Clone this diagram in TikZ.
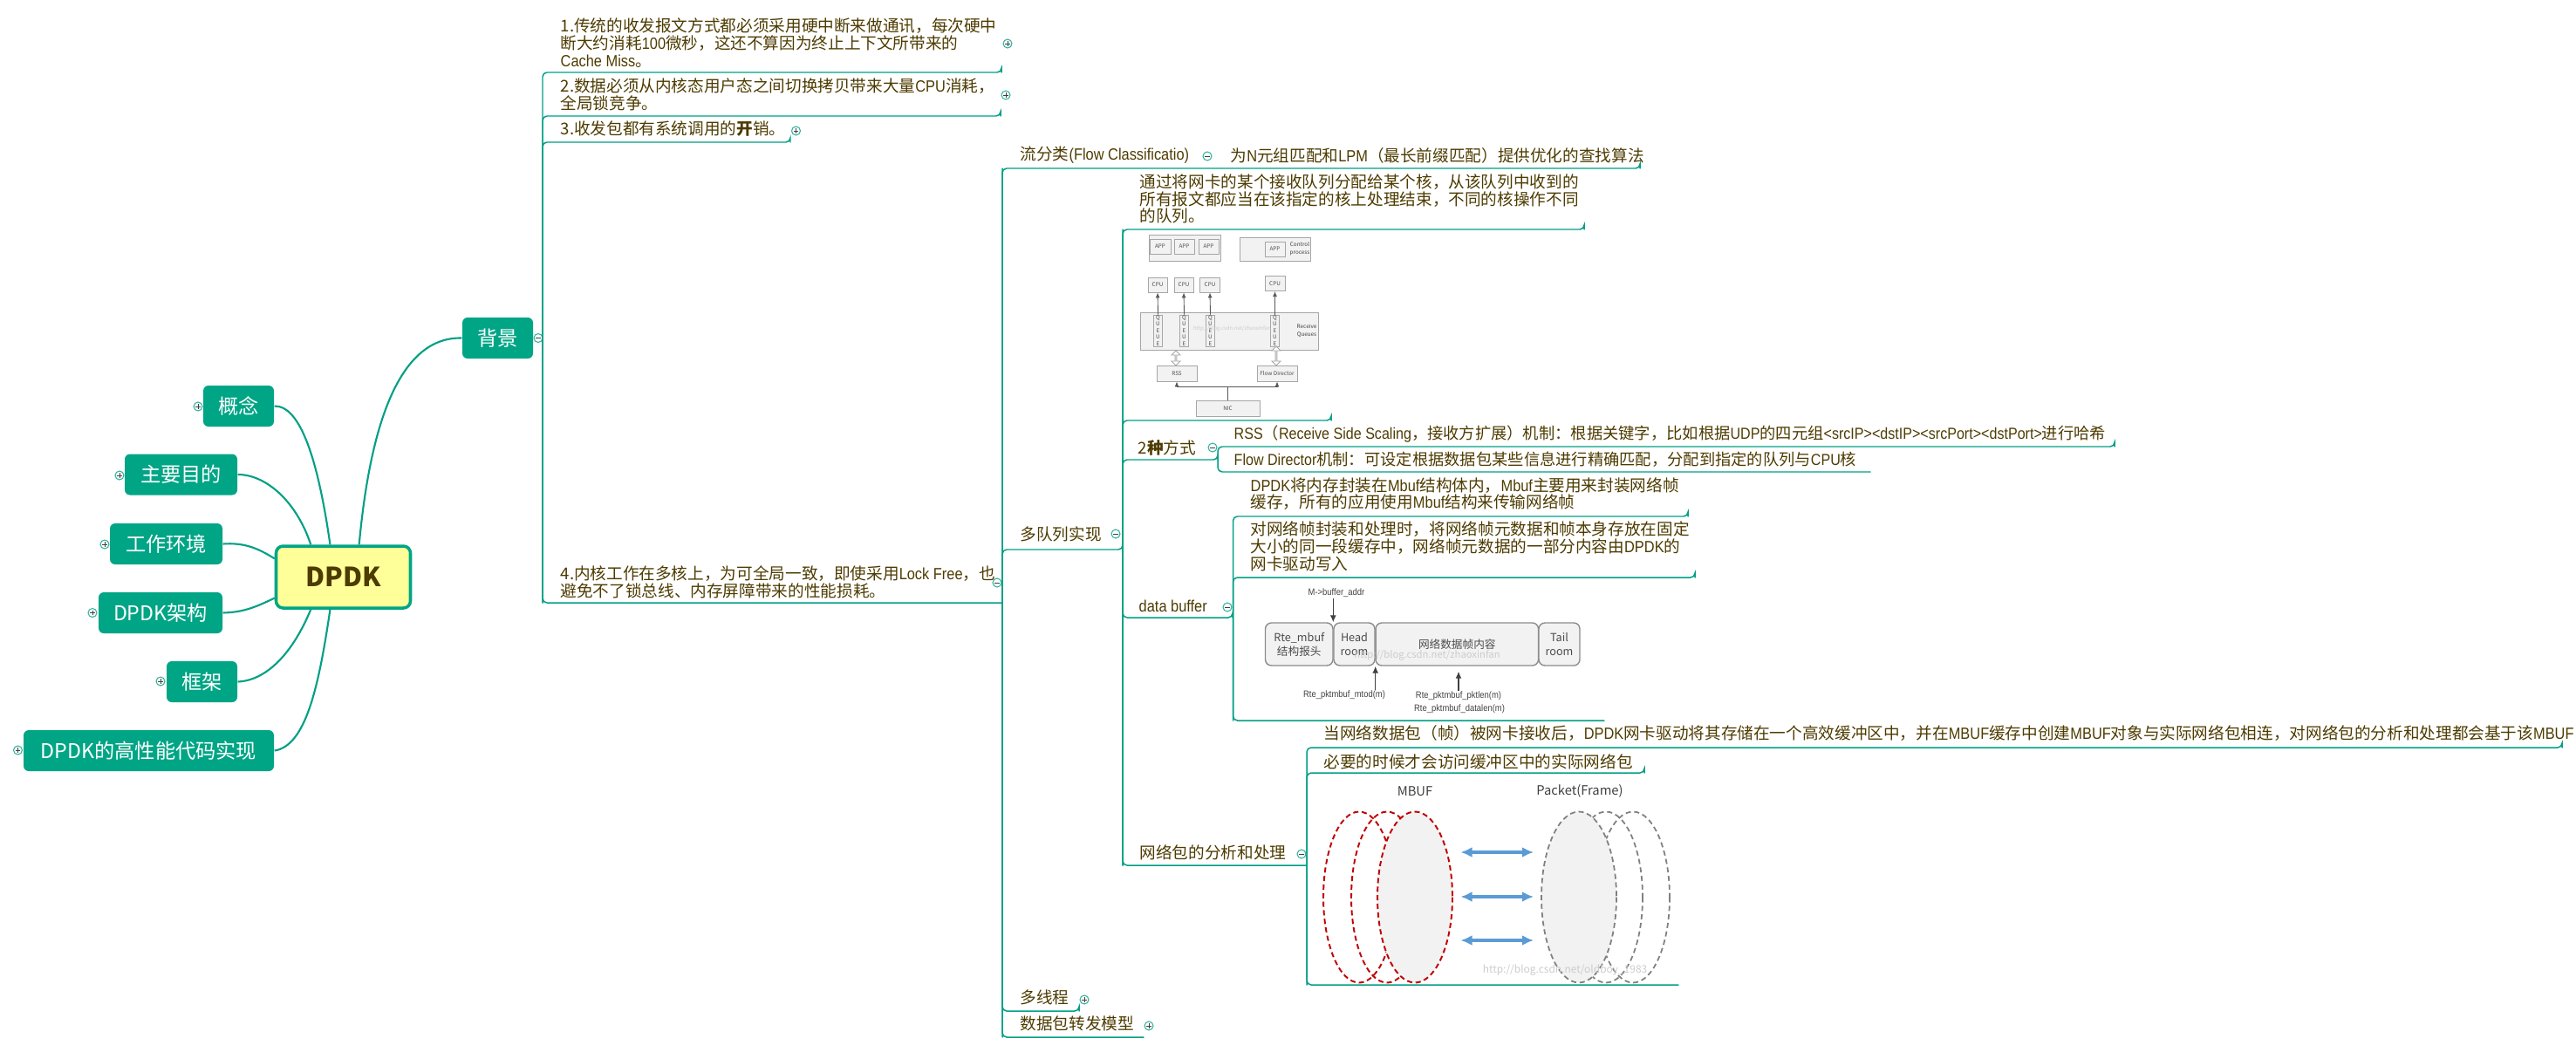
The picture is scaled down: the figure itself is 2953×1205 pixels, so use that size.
\documentclass[tikz,border=0pt]{standalone}
\usepackage{fontspec}
\setmainfont{Noto Sans CJK SC}
\newfontfamily\latinfont[FakeStretch=0.88]{Liberation Sans}
\newcommand{\lat}[1]{{\latinfont #1}}
\usepackage{tikz}
\usetikzlibrary{arrows.meta,calc,shapes.arrows}
\usepackage{tkz-euclide}
\usepackage{xcolor}
\definecolor{MapGreen}{HTML}{00a586}
\definecolor{MapLine}{HTML}{009f84}
\definecolor{MapText}{HTML}{4d3b00}
\definecolor{MapYellow}{HTML}{ffff99}
\definecolor{ShotGrey}{HTML}{f2f2f2}
\definecolor{ShotRed}{HTML}{c00000}
\definecolor{ShotBlue}{HTML}{5b9bd5}
\tikzset{
  subject/.style={draw=none,fill=MapGreen,text=white,rounded corners=.6mm,inner sep=0pt,
    minimum height=4.7mm,font=\fontsize{6.6}{7}\selectfont},
  topic/.style={anchor=west,text=MapText,inner sep=0pt,align=left,
    font=\fontsize{5.3}{5.65}\selectfont},
  branch/.style={MapLine,line width=.42pt,rounded corners=.5mm},
  link/.style={MapLine,line width=.6pt},
  fold/.style={circle,draw=MapLine!80,fill=white,line width=.3pt,minimum size=1mm,inner sep=0pt},
  foldshut/.style={fold,path picture={
    \draw[line width=.2pt,black!75] (path picture bounding box.center) ++(-.28mm,0) -- ++(.56mm,0);
    \draw[line width=.2pt,black!75] (path picture bounding box.center) ++(0,-.28mm) -- ++(0,.56mm);}},
  foldopen/.style={fold,path picture={
    \draw[line width=.2pt,black!75] (path picture bounding box.center) ++(-.28mm,0) -- ++(.56mm,0);}},
  shotbox/.style={draw=black!35,fill=ShotGrey,inner sep=0pt,text=black!70,align=center,
    line width=.25pt,font=\fontsize{1.8}{2.1}\selectfont},
  shotarrow/.style={black!65,line width=.25pt,-{Latex[length=.6mm,width=.5mm]}},
  hollow/.style={double arrow,draw=black!35,fill=white,line width=.25pt,inner sep=0pt,rotate=90,
    minimum width=1mm,double arrow head extend=.2mm,double arrow head indent=0pt},
  cell/.style={draw=black!45,fill=ShotGrey,rounded corners=.7mm,inner sep=0pt,text=black!70,
    align=center,minimum height=4.9mm,font=\fontsize{3.6}{4.6}\selectfont},
  caption/.style={text=black!75,inner sep=0pt,font=\fontsize{3.05}{3.4}\selectfont\latinfont},
  stamp/.style={text=black!20,inner sep=0pt,font=\fontsize{3.2}{3.6}\selectfont},
  dashred/.style={ShotRed,line width=.55pt,dash pattern=on 1.7pt off 1.1pt},
  dashgrey/.style={black!50,line width=.5pt,dash pattern=on 1.7pt off 1.1pt},
  capture/.style={black!75,line width=.35pt,-{Latex[length=.8mm,width=.7mm]}},
  bluearrow/.style={ShotBlue,line width=1.1pt,{Latex[length=1.3mm,width=1.2mm]}-{Latex[length=1.3mm,width=1.2mm]}}
}
\begin{document}
\begin{tikzpicture}[x=.1mm,y=-.1mm]
   \useasboundingbox (0,0) rectangle (2953,1205);
   % centre and first level
   \node[subject,fill=MapYellow,draw=MapGreen,line width=1pt,rounded corners=.8mm,text=MapText,
     minimum width=15.4mm,minimum height=7.1mm,font=\fontsize{8.6}{9}\selectfont\bfseries] (dpdk) at (393.5,661.5) {DPDK};
   \node[subject,minimum width=8.1mm] (bg) at (570.5,387.5) {背景};
   \node[subject,minimum width=8.1mm] (gn) at (273.5,465.5) {概念};
   \node[subject,minimum width=12.9mm] (md) at (207.5,544) {主要目的};
   \node[subject,minimum width=12.9mm] (hj) at (190.5,623.5) {工作环境};
   \node[subject,minimum width=14.2mm] (jg) at (184,702.5) {DPDK架构};
   \node[subject,minimum width=8.1mm] (kj) at (231.5,781.5) {框架};
   \node[subject,minimum width=28.7mm] (gx) at (170.5,860.5) {DPDK的高性能代码实现};
   \draw[link] (dpdk.64) .. controls (425,480) and (460,386) .. (bg.west);
   \draw[link] (dpdk.112) .. controls (365,530) and (345,465) .. (gn.east);
   \draw[link] (dpdk.135) .. controls (340,575) and (305,544) .. (md.east);
   \draw[link] (dpdk.165) .. controls (295,628) and (280,622) .. (hj.east);
   \draw[link] (dpdk.197) .. controls (295,695) and (280,702) .. (jg.east);
   \draw[link] (dpdk.225) .. controls (335,750) and (305,780) .. (kj.east);
   \draw[link] (dpdk.248) .. controls (365,790) and (350,855) .. (gx.east);
   \node[foldopen] (fbg) at (617,387.5) {};
   \node[foldshut] (fgn) at (227,466) {};
   \node[foldshut] (fmd) at (137,545) {};
   \node[foldshut] (fhj) at (120,624) {};
   \node[foldshut] (fjg) at (106,702.5) {};
   \node[foldshut] (fkj) at (184,781) {};
   \node[foldshut] (fgx) at (20.5,860) {};
   % tree lines
   \tkzDefPoints{622/83/a,1148/83/ar,622/133/b,1147/133/br,622/163/c,906/163/cr,622/691/d,1149/691/dr}
   \tkzDrawPolySeg[branch](ar,a,d,dr)
   \tkzDrawPolySeg[branch](br,b,d)
   \tkzDrawPolySeg[branch](cr,c,d)
   \tkzDefPoints{1149/193/e,1880/193/er,1149/630/f,1287/630/fr,1149/1159/g,1237/1159/gr,1149/1189/h,1311/1189/hr}
   \tkzDrawPolySeg[branch](er,e,h,hr)
   \tkzDrawPolySeg[branch](fr,f,h)
   \tkzDrawPolySeg[branch](gr,g,e)
   \tkzDefPoints{1287/263/i,1816/263/ir,1287/482/j,1526/482/jr,1287/527/k,1396/527/kr,1287/708/l,1413/708/lr,1287/992/m,1498/992/mr}
   \tkzDrawPolySeg[branch](ir,i,m,mr)
   \tkzDrawPolySeg[branch](jr,j,m)
   \tkzDrawPolySeg[branch](kr,k,m)
   \tkzDrawPolySeg[branch](lr,l,i)
   \tkzDefPoints{1396/512/n,2424/512/nr,1396/541/o,2144/541/or}
   \tkzDrawPolySeg[branch](nr,n,o,or)
   \tkzDefPoints{1413.5/592/p,1935/592/pr,1413.5/662/q,1943/662/qr,1413.5/826/r,1839/826/rr}
   \tkzDrawPolySeg[branch](pr,p,r,rr)
   \tkzDrawPolySeg[branch](qr,q,r)
   \tkzDefPoints{1498/857/s,2937/857/sr,1498/886/t,1885/886/tr,1498/1129/u,1924/1129/ur}
   \tkzDrawPolySeg[branch](sr,s,u,ur)
   \tkzDrawPolySeg[branch](tr,t,u)
   % text of the topics
   \node[topic] (t1) at (642,49) {1.传统的收发报文方式都必须采用硬中断来做通讯，每次硬中\\断大约消耗\lat{100}微秒，这还不算因为终止上下文所带来的\\\lat{Cache Miss}。};
   \node[foldshut] (f1) at (1155,50) {};
   \node[topic] (t2) at (642,108.5) {2.数据必须从内核态用户态之间切换拷贝带来大量\lat{CPU}消耗，\\全局锁竞争。};
   \node[foldshut] (f2) at (1153,109) {};
   \node[topic] (t3) at (642,148) {3.收发包都有系统调用的{\bfseries 开}销。};
   \node[foldshut] (f3) at (912.5,150) {};
   \node[topic] (t4) at (642,667) {4.内核工作在多核上，为可全局一致，即使采用\lat{Lock Free}，也\\避免不了锁总线、内存屏障带来的性能损耗。};
   \node[foldopen] (f4) at (1143,668) {};
   \node[topic] (t5) at (1169,178) {流分类\lat{(Flow Classificatio)}};
   \node[foldopen] (f5) at (1384,179) {};
   \node[topic] (t6) at (1410,178) {为\lat{N}元组匹配和\lat{LPM}（最长前缀匹配）提供优化的查找算法};
   \node[topic] (t7) at (1169,612) {多队列实现};
   \node[foldopen] (f7) at (1279,612) {};
   \node[topic] (t8) at (1306,228) {通过将网卡的某个接收队列分配给某个核，从该队列中收到的\\所有报文都应当在该指定的核上处理结束，不同的核操作不同\\的队列。};
   \node[topic] (t9) at (1304,513) {2{\bfseries 种}方式};
   \node[foldopen] (f9) at (1390,513) {};
   \node[topic,font=\fontsize{5.2}{5.65}\selectfont] (t10) at (1414,498) {\lat{RSS}（\lat{Receive Side Scaling}，接收方扩展）机制：根据关键字，比如根据\lat{UDP}的四元组\lat{<srcIP><dstIP><srcPort><dstPort>}进行哈希};
   \node[topic,font=\fontsize{5.2}{5.65}\selectfont] (t11) at (1414,527) {\lat{Flow Director}机制：可设定根据数据包某些信息进行精确匹配，分配到指定的队列与\lat{CPU}核};
   \node[topic] (t12) at (1305,695) {\lat{data buffer}};
   \node[foldopen] (f12) at (1407,696) {};
   \node[topic] (t13) at (1433,566) {\lat{DPDK}将内存封装在\lat{Mbuf}结构体内，\lat{Mbuf}主要用来封装网络帧\\缓存，所有的应用使用\lat{Mbuf}结构来传输网络帧};
   \node[topic] (t14) at (1433,626) {对网络帧封装和处理时，将网络帧元数据和帧本身存放在固定\\大小的同一段缓存中，网络帧元数据的一部分内容由\lat{DPDK}的\\网卡驱动写入};
   \node[topic] (t15) at (1306,977) {网络包的分析和处理};
   \node[foldopen] (f15) at (1492,979) {};
   \node[topic] (t16) at (1517,841) {当网络数据包（帧）被网卡接收后，\lat{DPDK}网卡驱动将其存储在一个高效缓冲区中，并在\lat{MBUF}缓存中创建\lat{MBUF}对象与实际网络包相连，对网络包的分析和处理都会基于该\lat{MBUF}};
   \node[topic] (t17) at (1517,873) {必要的时候才会访问缓冲区中的实际网络包};
   \node[topic] (t18) at (1169,1143) {多线程};
   \node[foldshut] (f18) at (1243,1146) {};
   \node[topic] (t19) at (1169,1173) {数据包转发模型};
   \node[foldshut] (f19) at (1317,1176) {};
   % receive queues
   \node[shotbox,minimum width=8.2mm,minimum height=3mm] (apps) at (1358,284) {};
   \node[shotbox,minimum width=2.4mm,minimum height=1.7mm] (a1) at (1330,282.5) {APP};
   \node[shotbox,minimum width=2.3mm,minimum height=1.7mm] (a2) at (1357.5,282.5) {APP};
   \node[shotbox,minimum width=2.3mm,minimum height=1.7mm] (a3) at (1385.5,282.5) {APP};
   \node[shotbox,minimum width=8.1mm,minimum height=2.7mm] (ctrl) at (1461.5,285.5) {};
   \node[shotbox,minimum width=2.3mm,minimum height=1.7mm] (a4) at (1461.5,285.5) {APP};
   \node[caption,align=center,font=\fontsize{1.8}{2.4}\selectfont] (ctrltext) at (1490,285) {Control\\process};
   \node[shotbox,minimum width=2.2mm,minimum height=1.7mm] (c1) at (1327,326.5) {CPU};
   \node[shotbox,minimum width=2.2mm,minimum height=1.7mm] (c2) at (1357,326.5) {CPU};
   \node[shotbox,minimum width=2.3mm,minimum height=1.7mm] (c3) at (1387,326.5) {CPU};
   \node[shotbox,minimum width=2.3mm,minimum height=1.7mm] (c4) at (1461.5,325) {CPU};
   \node[shotbox,minimum width=20.4mm,minimum height=4.3mm] (rq) at (1409,379.5) {};
   \node[shotbox,minimum width=1mm,minimum height=3.6mm] (q1) at (1327.5,379) {Q\\U\\E\\U\\E};
   \node[shotbox,minimum width=1mm,minimum height=3.6mm] (q2) at (1357.5,379) {Q\\U\\E\\U\\E};
   \node[shotbox,minimum width=1mm,minimum height=3.6mm] (q3) at (1387.5,379) {Q\\U\\E\\U\\E};
   \node[shotbox,minimum width=1mm,minimum height=3.6mm] (q4) at (1461.5,379) {Q\\U\\E\\U\\E};
   \node[caption,align=center,font=\fontsize{1.8}{2.4}\selectfont] (rqtext) at (1498,379) {Receive\\Queues};
   \node[stamp,font=\fontsize{1.7}{2}\selectfont] (mark1) at (1412.5,377) {http://blog.csdn.net/zhaoxinfan};
   \node[shotbox,minimum width=4.6mm,minimum height=1.8mm] (rss) at (1349,428) {RSS};
   \node[shotbox,minimum width=4.6mm,minimum height=1.8mm] (flow) at (1464,428) {Flow Director};
   \node[shotbox,minimum width=7.3mm,minimum height=1.8mm] (nic) at (1407.5,468) {NIC};
   \coordinate (split) at (1407.5,443);
   \draw[shotarrow] (q1.north) -- (c1.south);
   \draw[shotarrow] (q2.north) -- (c2.south);
   \draw[shotarrow] (q3.north) -- (c3.south);
   \draw[shotarrow] (q4.north) -- (c4.south);
   \node[hollow,minimum height=1.7mm] (ra) at (1348,410.5) {};
   \node[hollow,minimum height=2.2mm] (fa) at (1463,408) {};
   \draw[black!65,line width=.25pt] (nic.north) -- (split);
   \draw[shotarrow] (split) -| (rss.south);
   \draw[shotarrow] (split) -| (flow.south);
   % mbuf layout
   \node[caption] (addr) at (1532,680) {M->buffer\_addr};
   \node[cell,minimum width=7.75mm] (hd) at (1489.25,738.5) {Rte\_mbuf\\结构报头};
   \node[cell,minimum width=4.7mm] (head) at (1552.5,738.5) {Head\\room};
   \node[cell,minimum width=18.65mm] (frame) at (1670.3,738.5) {网络数据帧内容};
   \node[cell,minimum width=4.7mm] (tail) at (1787.5,738.5) {Tail\\room};
   \node[stamp] (mark2) at (1636,751) {http://blog.csdn.net/zhaoxinfan};
   \node[caption] (mtod) at (1541,797) {Rte\_pktmbuf\_mtod(m)};
   \node[caption] (pktlen) at (1672,798) {Rte\_pktmbuf\_pktlen(m)};
   \node[caption] (datalen) at (1673,813) {Rte\_pktmbuf\_datalen(m)};
   \draw[capture] (addr.south -| head.north west) -- (head.north west);
   \draw[capture] (mtod.north -| head.south east) -- (head.south east);
   \draw[capture,shorten >=.6mm] (pktlen.north) -- (pktlen.north |- frame.south);
   % mbuf and frames
   \node[caption,font=\fontsize{4.2}{5}\selectfont] (mbuf) at (1622,907) {MBUF};
   \node[caption,font=\fontsize{4.2}{5}\selectfont] (pkt) at (1811,907) {Packet(Frame)};
   \draw[dashred] (1558,1028.5) ellipse [x radius=41,y radius=98];
   \draw[dashred] (1590,1028.5) ellipse [x radius=41,y radius=98];
   \draw[dashred,fill=ShotGrey] (1622,1028.5) ellipse [x radius=43,y radius=98];
   \draw[dashgrey] (1872,1028.5) ellipse [x radius=42,y radius=98];
   \draw[dashgrey] (1841,1028.5) ellipse [x radius=42,y radius=98];
   \draw[dashgrey,fill=ShotGrey] (1810,1028.5) ellipse [x radius=43,y radius=98];
   \tkzDefPoints{1674.5/977/v,1758/977/vr,1674.5/1028/w,1758/1028/wr,1674.5/1078/y,1758/1078/yr}
   \tkzDrawSegment[bluearrow](v,vr)
   \tkzDrawSegment[bluearrow](w,wr)
   \tkzDrawSegment[bluearrow](y,yr)
   \node[stamp,font=\fontsize{3.4}{4}\selectfont] (mark3) at (1794,1112) {http://blog.csdn.net/oldboy\_1983};
\end{tikzpicture}
\end{document}
